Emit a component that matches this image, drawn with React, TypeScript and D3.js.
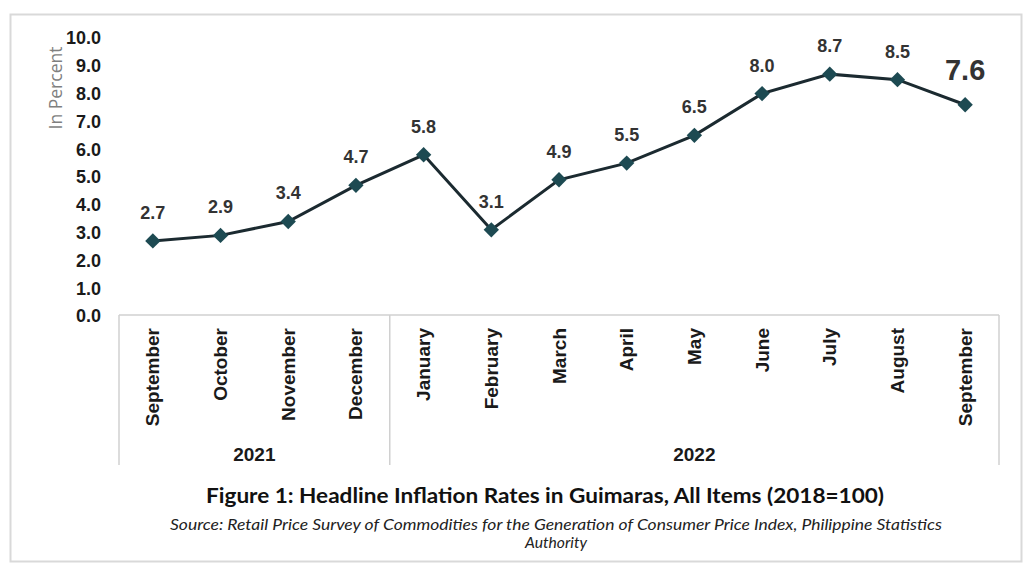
import React from 'react';
import * as d3 from 'd3';

const months = [
    'September', 'October', 'November', 'December',
    'January', 'February', 'March', 'April', 'May', 'June', 'July', 'August', 'September'
];
const years = ['2021', '2022'];
const monthsPerYear = [4, 9];
const rates = [2.7, 2.9, 3.4, 4.7, 5.8, 3.1, 4.9, 5.5, 6.5, 8.0, 8.7, 8.5, 7.6];
const yTicks = [0, 1, 2, 3, 4, 5, 6, 7, 8, 9, 10];

const title = 'Figure 1: Headline Inflation Rates in Guimaras, All Items (2018=100)';
const sourceLines = [
    'Source: Retail Price Survey of Commodities for the Generation of Consumer Price Index, Philippine Statistics',
    'Authority'
];

const W = 1030;
const H = 573;

const App: React.FC = () => {
    // plot geometry
    const left = 119;
    const right = 999;
    const top = 38;
    const bottom = 316;

    const x = d3.scaleBand<number>()
        .domain(d3.range(months.length))
        .range([left, right]);

    const y = d3.scaleLinear()
        .domain([0, 10])
        .range([bottom, top]);

    const cx = (i: number) => (x(i) as number) + x.bandwidth() / 2;

    const line = d3.line<number>()
        .x((_, i) => cx(i))
        .y(d => y(d));

    const diamond = d3.symbol().type(d3.symbolDiamond2).size(150)();

    // year group boundaries
    const groupEdges: number[] = [0];
    monthsPerYear.forEach(n => groupEdges.push(groupEdges[groupEdges.length - 1] + n));
    const edgeX = (k: number) => (k < months.length ? (x(k) as number) : right);

    const axisFont = '"Liberation Sans", Arial, sans-serif';
    const lastIdx = rates.length - 1;

    return (
        <svg
            width={W}
            height={H}
            style={{ position: 'absolute', left: 0, top: 0, background: '#fff' }}
        >
            <rect x={0} y={0} width={W} height={H} fill="#fff" />
            {/* outer frame */}
            <rect x={10.5} y={14.5} width={1011} height={547} fill="none" stroke="#d9d9d9" strokeWidth={2} />

            {/* y axis label */}
            <text
                transform={`translate(62, 88) rotate(-90)`}
                textAnchor="middle"
                fontFamily='"Open Sans", sans-serif'
                fontSize={17.5}
                fill="#7f7f7f"
            >
                In Percent
            </text>

            {/* y tick labels */}
            {yTicks.map(t => (
                <text
                    key={t}
                    x={101}
                    y={y(t)}
                    dy="0.36em"
                    textAnchor="end"
                    fontFamily={axisFont}
                    fontWeight="bold"
                    fontSize={18}
                    fill="#1a1a1a"
                >
                    {t.toFixed(1)}
                </text>
            ))}

            {/* category axis box */}
            <line x1={left} x2={right} y1={bottom - 1} y2={bottom - 1} stroke="#d0d0d0" strokeWidth={1.5} />
            {groupEdges.map((k, i) => (
                <line
                    key={i}
                    x1={edgeX(k)}
                    x2={edgeX(k)}
                    y1={bottom - 1}
                    y2={465}
                    stroke="#d0d0d0"
                    strokeWidth={1.5}
                />
            ))}

            {/* month labels */}
            {months.map((m, i) => (
                <text
                    key={i}
                    transform={`translate(${cx(i)}, 328) rotate(-90)`}
                    textAnchor="end"
                    dominantBaseline="central"
                    fontFamily={axisFont}
                    fontWeight="bold"
                    fontSize={19}
                    fill="#1a1a1a"
                >
                    {m}
                </text>
            ))}

            {/* year labels */}
            {years.map((yr, i) => (
                <text
                    key={yr}
                    x={(edgeX(groupEdges[i]) + edgeX(groupEdges[i + 1])) / 2}
                    y={461}
                    textAnchor="middle"
                    fontFamily={axisFont}
                    fontWeight="bold"
                    fontSize={19}
                    fill="#1a1a1a"
                >
                    {yr}
                </text>
            ))}

            {/* series line */}
            <path d={line(rates) || ''} fill="none" stroke="#1b2a30" strokeWidth={3} />

            {/* markers */}
            {rates.map((v, i) => (
                <path
                    key={i}
                    d={diamond || ''}
                    transform={`translate(${cx(i)}, ${y(v)})`}
                    fill="#1d4a52"
                />
            ))}

            {/* data labels */}
            {rates.map((v, i) => (
                <text
                    key={i}
                    x={cx(i)}
                    y={i === lastIdx ? y(v) - 25 : y(v) - 22}
                    textAnchor="middle"
                    fontFamily={axisFont}
                    fontWeight="bold"
                    fontSize={i === lastIdx ? 29 : 18}
                    fill="#333"
                >
                    {v.toFixed(1)}
                </text>
            ))}

            {/* title */}
            <text
                x={545}
                y={503}
                textAnchor="middle"
                fontFamily='Lato, "Open Sans", sans-serif'
                fontWeight="bold"
                fontSize={21}
                textLength={678}
                lengthAdjust="spacingAndGlyphs"
                fill="#111"
            >
                {title}
            </text>

            {/* source */}
            {sourceLines.map((s, i) => (
                <text
                    key={i}
                    x={556}
                    y={530 + i * 18}
                    textAnchor="middle"
                    fontFamily='Lato, "Open Sans", sans-serif'
                    fontStyle="italic"
                    fontSize={15}
                    textLength={i === 0 ? 772 : 62}
                    lengthAdjust="spacingAndGlyphs"
                    fill="#222"
                >
                    {s}
                </text>
            ))}
        </svg>
    );
};

export default App;
